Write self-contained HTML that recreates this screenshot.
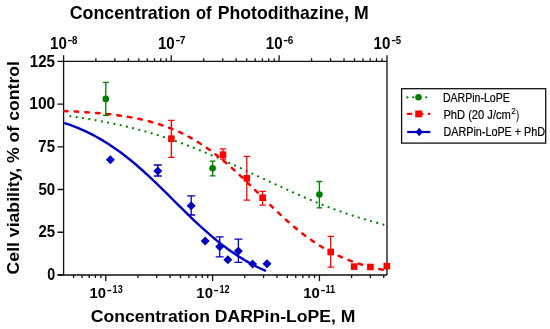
<!DOCTYPE html>
<html><head><meta charset="utf-8"><style>
html,body{margin:0;padding:0;background:#fff;width:550px;height:329px;overflow:hidden}
svg{display:block}
</style></head><body>
<svg width="550" height="329" viewBox="0 0 550 329">
<rect width="550" height="329" fill="#fff"/>
<path d="M63.6,55.3 V275.0 M57.5,61.3 H387.0 M57.5,275.0 H387.0 M387.0,55.3 V275.0" stroke="#111" stroke-width="1.3" fill="none"/>
<path d="M57.5,275.00 H63.6 M57.5,232.26 H63.6 M57.5,189.52 H63.6 M57.5,146.78 H63.6 M57.5,104.04 H63.6 " stroke="#111" stroke-width="1.3" fill="none"/>
<path d="M95.87,61.3 V58.3 M114.86,61.3 V58.3 M128.33,61.3 V58.3 M138.78,61.3 V58.3 M147.32,61.3 V58.3 M154.54,61.3 V58.3 M160.80,61.3 V58.3 M166.32,61.3 V58.3 M171.25,61.3 V55.3 M203.72,61.3 V58.3 M222.71,61.3 V58.3 M236.18,61.3 V58.3 M246.63,61.3 V58.3 M255.17,61.3 V58.3 M262.39,61.3 V58.3 M268.65,61.3 V58.3 M274.17,61.3 V58.3 M279.10,61.3 V55.3 M311.57,61.3 V58.3 M330.56,61.3 V58.3 M344.03,61.3 V58.3 M354.48,61.3 V58.3 M363.02,61.3 V58.3 M370.24,61.3 V58.3 M376.50,61.3 V58.3 M382.02,61.3 V58.3 " stroke="#111" stroke-width="1.3" fill="none"/>
<path d="M73.61,275.0 V278.0 M82.07,275.0 V278.0 M89.22,275.0 V278.0 M95.42,275.0 V278.0 M100.88,275.0 V278.0 M105.77,275.0 V281.0 M137.93,275.0 V278.0 M156.74,275.0 V278.0 M170.09,275.0 V278.0 M180.44,275.0 V278.0 M188.90,275.0 V278.0 M196.05,275.0 V278.0 M202.25,275.0 V278.0 M207.71,275.0 V278.0 M212.60,275.0 V281.0 M244.76,275.0 V278.0 M263.57,275.0 V278.0 M276.92,275.0 V278.0 M287.27,275.0 V278.0 M295.73,275.0 V278.0 M302.88,275.0 V278.0 M309.08,275.0 V278.0 M314.54,275.0 V278.0 M319.43,275.0 V281.0 M351.59,275.0 V278.0 M370.40,275.0 V278.0 M383.75,275.0 V278.0 " stroke="#111" stroke-width="1.3" fill="none"/>
<path d="M64.30,115.48 L68.37,116.01 L72.44,116.56 L76.52,117.13 L80.59,117.73 L84.66,118.35 L88.73,119.01 L92.81,119.69 L96.88,120.40 L100.95,121.15 L105.02,121.92 L109.09,122.73 L113.17,123.57 L117.24,124.45 L121.31,125.36 L125.38,126.30 L129.45,127.28 L133.53,128.30 L137.60,129.36 L141.67,130.45 L145.74,131.58 L149.82,132.75 L153.89,133.96 L157.96,135.21 L162.03,136.50 L166.10,137.83 L170.18,139.19 L174.25,140.60 L178.32,142.04 L182.39,143.53 L186.46,145.04 L190.54,146.60 L194.61,148.19 L198.68,149.81 L202.75,151.47 L206.83,153.16 L210.90,154.87 L214.97,156.62 L219.04,158.39 L223.11,160.19 L227.19,162.01 L231.26,163.84 L235.33,165.70 L239.40,167.57 L243.47,169.45 L247.55,171.34 L251.62,173.24 L255.69,175.15 L259.76,177.05 L263.84,178.96 L267.91,180.86 L271.98,182.75 L276.05,184.64 L280.12,186.51 L284.20,188.37 L288.27,190.21 L292.34,192.04 L296.41,193.84 L300.48,195.62 L304.56,197.37 L308.63,199.10 L312.70,200.79 L316.77,202.46 L320.85,204.09 L324.92,205.69 L328.99,207.26 L333.06,208.79 L337.13,210.28 L341.21,211.73 L345.28,213.15 L349.35,214.53 L353.42,215.86 L357.49,217.16 L361.57,218.42 L365.64,219.64 L369.71,220.83 L373.78,221.97 L377.86,223.07 L381.93,224.14 L386.00,225.17" stroke="#007f00" stroke-width="2.2" fill="none" stroke-dasharray="0.01 6.386" stroke-dashoffset="0.36" stroke-linecap="round"/>
<path d="M64.30,111.03 L68.37,111.21 L72.44,111.40 L76.52,111.61 L80.59,111.84 L84.66,112.10 L88.73,112.38 L92.81,112.68 L96.88,113.02 L100.95,113.38 L105.02,113.78 L109.09,114.22 L113.17,114.70 L117.24,115.23 L121.31,115.80 L125.38,116.42 L129.45,117.11 L133.53,117.85 L137.60,118.66 L141.67,119.54 L145.74,120.50 L149.82,121.54 L153.89,122.66 L157.96,123.89 L162.03,125.21 L166.10,126.63 L170.18,128.17 L174.25,129.83 L178.32,131.61 L182.39,133.52 L186.46,135.56 L190.54,137.74 L194.61,140.07 L198.68,142.54 L202.75,145.15 L206.83,147.91 L210.90,150.82 L214.97,153.87 L219.04,157.06 L223.11,160.39 L227.19,163.84 L231.26,167.42 L235.33,171.10 L239.40,174.87 L243.47,178.73 L247.55,182.66 L251.62,186.63 L255.69,190.64 L259.76,194.66 L263.84,198.68 L267.91,202.68 L271.98,206.64 L276.05,210.55 L280.12,214.38 L284.20,218.13 L288.27,221.77 L292.34,225.31 L296.41,228.72 L300.48,232.01 L304.56,235.15 L308.63,238.16 L312.70,241.02 L316.77,243.73 L320.85,246.30 L324.92,248.72 L328.99,250.99 L333.06,253.13 L337.13,255.13 L341.21,256.99 L345.28,258.73 L349.35,260.35 L353.42,261.85 L357.49,263.24 L361.57,264.53 L365.64,265.72 L369.71,266.82 L373.78,267.83 L377.86,268.76 L381.93,269.62 L386.00,270.41" stroke="#ff0000" stroke-width="2.5" fill="none" stroke-dasharray="3.6 7.1" stroke-dashoffset="0.36" stroke-linecap="round"/>
<path d="M64.30,122.93 L66.85,123.79 L69.41,124.69 L71.96,125.62 L74.51,126.60 L77.07,127.62 L79.62,128.69 L82.17,129.79 L84.73,130.95 L87.28,132.15 L89.83,133.39 L92.38,134.69 L94.94,136.03 L97.49,137.43 L100.04,138.87 L102.60,140.37 L105.15,141.92 L107.70,143.52 L110.26,145.17 L112.81,146.88 L115.36,148.64 L117.92,150.45 L120.47,152.31 L123.02,154.22 L125.58,156.19 L128.13,158.20 L130.68,160.27 L133.24,162.38 L135.79,164.54 L138.34,166.74 L140.89,168.98 L143.45,171.26 L146.00,173.58 L148.55,175.94 L151.11,178.33 L153.66,180.75 L156.21,183.20 L158.77,185.67 L161.32,188.16 L163.87,190.66 L166.43,193.18 L168.98,195.71 L171.53,198.25 L174.09,200.79 L176.64,203.33 L179.19,205.86 L181.75,208.39 L184.30,210.90 L186.85,213.40 L189.41,215.88 L191.96,218.34 L194.51,220.77 L197.06,223.17 L199.62,225.55 L202.17,227.88 L204.72,230.19 L207.28,232.45 L209.83,234.67 L212.38,236.85 L214.94,238.98 L217.49,241.06 L220.04,243.10 L222.60,245.09 L225.15,247.03 L227.70,248.91 L230.26,250.75 L232.81,252.53 L235.36,254.26 L237.92,255.94 L240.47,257.56 L243.02,259.13 L245.57,260.66 L248.13,262.12 L250.68,263.54 L253.23,264.91 L255.79,266.23 L258.34,267.50 L260.89,268.72 L263.45,269.89 L266.00,271.02" stroke="#0000c0" stroke-width="2.4" fill="none"/>
<path d="M105.8,82.4 V115.4 M102.89999999999999,82.4 h5.8 M102.89999999999999,115.4 h5.8" stroke="#007f00" stroke-width="1.3" fill="none"/>
<circle cx="105.8" cy="98.9" r="3.3" fill="#007f00"/>
<path d="M212.6,161.2 V175.8 M209.7,161.2 h5.8 M209.7,175.8 h5.8" stroke="#007f00" stroke-width="1.3" fill="none"/>
<circle cx="212.6" cy="168.3" r="3.3" fill="#007f00"/>
<path d="M319.4,181.5 V207.8 M316.5,181.5 h5.8 M316.5,207.8 h5.8" stroke="#007f00" stroke-width="1.3" fill="none"/>
<circle cx="319.4" cy="194.6" r="3.3" fill="#007f00"/>
<path d="M171.4,120.4 V157.3 M168.20000000000002,120.4 h6.4 M168.20000000000002,157.3 h6.4" stroke="#ff0000" stroke-width="1.3" fill="none"/>
<rect x="168.1" y="135.39999999999998" width="6.6" height="6.6" fill="#ff0000"/>
<path d="M223,148.9 V159.1 M219.8,148.9 h6.4 M219.8,159.1 h6.4" stroke="#ff0000" stroke-width="1.3" fill="none"/>
<rect x="219.7" y="151.39999999999998" width="6.6" height="6.6" fill="#ff0000"/>
<path d="M246.8,156.4 V200.2 M243.60000000000002,156.4 h6.4 M243.60000000000002,200.2 h6.4" stroke="#ff0000" stroke-width="1.3" fill="none"/>
<rect x="243.5" y="175.0" width="6.6" height="6.6" fill="#ff0000"/>
<path d="M262.6,191.3 V205.1 M259.40000000000003,191.3 h6.4 M259.40000000000003,205.1 h6.4" stroke="#ff0000" stroke-width="1.3" fill="none"/>
<rect x="259.3" y="194.39999999999998" width="6.6" height="6.6" fill="#ff0000"/>
<path d="M330.7,236.4 V267.1 M327.5,236.4 h6.4 M327.5,267.1 h6.4" stroke="#ff0000" stroke-width="1.3" fill="none"/>
<rect x="327.4" y="248.7" width="6.6" height="6.6" fill="#ff0000"/>
<rect x="350.9" y="263.3" width="6.6" height="6.6" fill="#ff0000"/>
<rect x="367.09999999999997" y="263.7" width="6.6" height="6.6" fill="#ff0000"/>
<rect x="383.5" y="262.8" width="6.6" height="6.6" fill="#ff0000"/>
<path d="M110.4,155.3 L114.9,159.8 L110.4,164.3 L105.9,159.8 Z" fill="#0000c0"/>
<path d="M157.8,165 V176 M153.8,165 h8.0 M153.8,176 h8.0" stroke="#0000c0" stroke-width="1.3" fill="none"/>
<path d="M157.8,166.4 L162.3,170.9 L157.8,175.4 L153.3,170.9 Z" fill="#0000c0"/>
<path d="M191.2,195.8 V215 M187.2,195.8 h8.0 M187.2,215 h8.0" stroke="#0000c0" stroke-width="1.3" fill="none"/>
<path d="M191.2,201.3 L195.7,205.8 L191.2,210.3 L186.7,205.8 Z" fill="#0000c0"/>
<path d="M205.2,236.4 L209.7,240.9 L205.2,245.4 L200.7,240.9 Z" fill="#0000c0"/>
<path d="M219.7,236.8 V256.8 M215.7,236.8 h8.0 M215.7,256.8 h8.0" stroke="#0000c0" stroke-width="1.3" fill="none"/>
<path d="M219.7,242.3 L224.2,246.8 L219.7,251.3 L215.2,246.8 Z" fill="#0000c0"/>
<path d="M227.8,255.3 L232.3,259.8 L227.8,264.3 L223.3,259.8 Z" fill="#0000c0"/>
<path d="M238.4,239.2 V262.3 M234.4,239.2 h8.0 M234.4,262.3 h8.0" stroke="#0000c0" stroke-width="1.3" fill="none"/>
<path d="M238.4,246.5 L242.9,251.0 L238.4,255.5 L233.9,251.0 Z" fill="#0000c0"/>
<path d="M252.6,259.5 L257.1,264.0 L252.6,268.5 L248.1,264.0 Z" fill="#0000c0"/>
<path d="M267.0,259.2 L271.5,263.7 L267.0,268.2 L262.5,263.7 Z" fill="#0000c0"/>
<rect x="401.6" y="88.7" width="144.1" height="54.4" fill="none" stroke="#111" stroke-width="1.3"/>
<path d="M407.3,97.3 h0.1 M413.2,97.3 h0.1 M426.2,97.3 h0.1" stroke="#007f00" stroke-width="2.2" stroke-linecap="round"/>
<circle cx="418.5" cy="97.3" r="3.3" fill="#007f00"/>
<path d="M406.9,113.9 H412.1 M418,113.9 H423.4 M428,113.9 H430.3" stroke="#ff0000" stroke-width="2.4"/>
<rect x="415.25" y="110.45" width="6.9" height="6.9" fill="#ff0000"/>
<path d="M407.2,132.0 H430.4" stroke="#0000c0" stroke-width="2.2"/>
<path d="M419.2,127.8 L422.8,132.0 L419.2,136.2 L415.59999999999997,132.0 Z" fill="#0000c0"/>
<text x="442.93" y="101.60" font-family="Liberation Sans, Arial, sans-serif" font-size="12.3" textLength="66.92" lengthAdjust="spacingAndGlyphs" stroke="#000" stroke-width="0.2">DARPin-LoPE</text>
<text x="443.39" y="118.70" font-family="Liberation Sans, Arial, sans-serif" font-size="12.3" textLength="67.45" lengthAdjust="spacingAndGlyphs" stroke="#000" stroke-width="0.2">PhD (20 J/cm</text>
<text x="511.19" y="114.10" font-family="Liberation Sans, Arial, sans-serif" font-size="8.6" textLength="4.52" lengthAdjust="spacingAndGlyphs" stroke="#000" stroke-width="0.15">2</text>
<text x="516.35" y="118.70" font-family="Liberation Sans, Arial, sans-serif" font-size="12.3" textLength="2.76" lengthAdjust="spacingAndGlyphs" stroke="#000" stroke-width="0.2">)</text>
<text x="443.41" y="135.50" font-family="Liberation Sans, Arial, sans-serif" font-size="12.3" textLength="101.70" lengthAdjust="spacingAndGlyphs" stroke="#000" stroke-width="0.2">DARPin-LoPE + PhD</text>
<text x="69.67" y="19.30" font-family="Liberation Sans, Arial, sans-serif" font-weight="bold" font-size="17.7" textLength="120.74" lengthAdjust="spacingAndGlyphs" >Concentration</text>
<text x="195.95" y="19.30" font-family="Liberation Sans, Arial, sans-serif" font-weight="bold" font-size="17.7" textLength="15.61" lengthAdjust="spacingAndGlyphs" >of</text>
<text x="217.72" y="19.30" font-family="Liberation Sans, Arial, sans-serif" font-weight="bold" font-size="17.7" textLength="150.96" lengthAdjust="spacingAndGlyphs" >Photodithazine, M</text>
<text x="90.88" y="322.20" font-family="Liberation Sans, Arial, sans-serif" font-weight="bold" font-size="17.4" textLength="264.40" lengthAdjust="spacingAndGlyphs" >Concentration DARPin-LoPE, M</text>
<g transform="translate(19.2,274.42) rotate(-90)"><text x="0" y="0" font-family="Liberation Sans, Arial, sans-serif" font-weight="bold" font-size="16.6" textLength="213.36" lengthAdjust="spacingAndGlyphs">Cell viability, % of control</text></g>
<text x="47.23" y="280.20" font-family="Liberation Sans, Arial, sans-serif" font-weight="bold" font-size="15.8" textLength="7.95" lengthAdjust="spacingAndGlyphs" >0</text>
<text x="38.38" y="237.46" font-family="Liberation Sans, Arial, sans-serif" font-weight="bold" font-size="15.8" textLength="16.63" lengthAdjust="spacingAndGlyphs" >25</text>
<text x="38.54" y="194.72" font-family="Liberation Sans, Arial, sans-serif" font-weight="bold" font-size="15.8" textLength="16.68" lengthAdjust="spacingAndGlyphs" >50</text>
<text x="38.36" y="151.98" font-family="Liberation Sans, Arial, sans-serif" font-weight="bold" font-size="15.8" textLength="16.66" lengthAdjust="spacingAndGlyphs" >75</text>
<text x="29.22" y="109.24" font-family="Liberation Sans, Arial, sans-serif" font-weight="bold" font-size="15.8" textLength="26.02" lengthAdjust="spacingAndGlyphs" >100</text>
<text x="29.75" y="66.50" font-family="Liberation Sans, Arial, sans-serif" font-weight="bold" font-size="15.8" textLength="25.28" lengthAdjust="spacingAndGlyphs" >125</text>
<text x="50.05" y="48.70" font-family="Liberation Sans, Arial, sans-serif" font-weight="bold" font-size="15.6" textLength="16.77" lengthAdjust="spacingAndGlyphs" >10</text>
<text x="67.63" y="43.40" font-family="Liberation Sans, Arial, sans-serif" font-weight="bold" font-size="10.5" textLength="4.85" lengthAdjust="spacingAndGlyphs" >-</text>
<text x="72.09" y="44.20" font-family="Liberation Sans, Arial, sans-serif" font-weight="bold" font-size="10.5" textLength="5.41" lengthAdjust="spacingAndGlyphs" >8</text>
<text x="157.90" y="48.70" font-family="Liberation Sans, Arial, sans-serif" font-weight="bold" font-size="15.6" textLength="16.77" lengthAdjust="spacingAndGlyphs" >10</text>
<text x="175.48" y="43.40" font-family="Liberation Sans, Arial, sans-serif" font-weight="bold" font-size="10.5" textLength="4.85" lengthAdjust="spacingAndGlyphs" >-</text>
<text x="179.81" y="44.20" font-family="Liberation Sans, Arial, sans-serif" font-weight="bold" font-size="10.5" textLength="5.69" lengthAdjust="spacingAndGlyphs" >7</text>
<text x="265.75" y="48.70" font-family="Liberation Sans, Arial, sans-serif" font-weight="bold" font-size="15.6" textLength="16.77" lengthAdjust="spacingAndGlyphs" >10</text>
<text x="283.33" y="43.40" font-family="Liberation Sans, Arial, sans-serif" font-weight="bold" font-size="10.5" textLength="4.85" lengthAdjust="spacingAndGlyphs" >-</text>
<text x="287.74" y="44.20" font-family="Liberation Sans, Arial, sans-serif" font-weight="bold" font-size="10.5" textLength="5.52" lengthAdjust="spacingAndGlyphs" >6</text>
<text x="373.60" y="48.70" font-family="Liberation Sans, Arial, sans-serif" font-weight="bold" font-size="15.6" textLength="16.77" lengthAdjust="spacingAndGlyphs" >10</text>
<text x="391.18" y="43.40" font-family="Liberation Sans, Arial, sans-serif" font-weight="bold" font-size="10.5" textLength="4.85" lengthAdjust="spacingAndGlyphs" >-</text>
<text x="395.65" y="44.20" font-family="Liberation Sans, Arial, sans-serif" font-weight="bold" font-size="10.5" textLength="5.37" lengthAdjust="spacingAndGlyphs" >5</text>
<text x="89.53" y="298.20" font-family="Liberation Sans, Arial, sans-serif" font-weight="bold" font-size="15.5" textLength="16.55" lengthAdjust="spacingAndGlyphs" >10</text>
<text x="106.77" y="293.00" font-family="Liberation Sans, Arial, sans-serif" font-weight="bold" font-size="10.5" textLength="5.12" lengthAdjust="spacingAndGlyphs" >-</text>
<text x="112.60" y="293.30" font-family="Liberation Sans, Arial, sans-serif" font-weight="bold" font-size="10.0" textLength="10.10" lengthAdjust="spacingAndGlyphs" >13</text>
<text x="196.36" y="298.20" font-family="Liberation Sans, Arial, sans-serif" font-weight="bold" font-size="15.5" textLength="16.55" lengthAdjust="spacingAndGlyphs" >10</text>
<text x="213.60" y="293.00" font-family="Liberation Sans, Arial, sans-serif" font-weight="bold" font-size="10.5" textLength="5.12" lengthAdjust="spacingAndGlyphs" >-</text>
<text x="219.43" y="293.30" font-family="Liberation Sans, Arial, sans-serif" font-weight="bold" font-size="10.0" textLength="10.14" lengthAdjust="spacingAndGlyphs" >12</text>
<text x="303.19" y="298.20" font-family="Liberation Sans, Arial, sans-serif" font-weight="bold" font-size="15.5" textLength="16.55" lengthAdjust="spacingAndGlyphs" >10</text>
<text x="320.43" y="293.00" font-family="Liberation Sans, Arial, sans-serif" font-weight="bold" font-size="10.5" textLength="5.11" lengthAdjust="spacingAndGlyphs" >-</text>
<text x="325.48" y="293.30" font-family="Liberation Sans, Arial, sans-serif" font-weight="bold" font-size="10.3" textLength="9.80" lengthAdjust="spacingAndGlyphs" >11</text>
</svg>
</body></html>
